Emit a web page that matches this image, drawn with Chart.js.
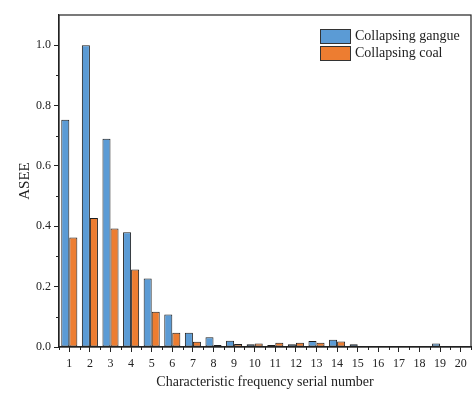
<!DOCTYPE html>
<html lang="en">
  <head>
    <meta charset="UTF-8" />
    <title>ASEE</title>
    <script src="https://cdn.jsdelivr.net/npm/chart.js"></script>
    <style>
      html, body { margin: 0; padding: 0; background: #fff; }
      #wrap { width: 474px; height: 395px; }
    </style>
  </head>
  <body>
    <div id="wrap"><canvas id="aseeChart" width="474" height="395"></canvas></div>

    <script>
      const categories = ["1","2","3","4","5","6","7","8","9","10","11","12","13","14","15","16","17","18","19","20"];
      const gangue = [0.753, 1.0, 0.69, 0.38, 0.227, 0.108, 0.047, 0.032, 0.021, 0.009, 0.007, 0.009, 0.02, 0.024, 0.009, 0.001, 0.001, 0.001, 0.012, 0.001];
      const coal = [0.363, 0.427, 0.393, 0.257, 0.117, 0.047, 0.017, 0.007, 0.01, 0.012, 0.014, 0.014, 0.014, 0.018, 0.003, 0.001, 0.001, 0.001, 0.001, 0.001];
      const yTicks = [0, 0.2, 0.4, 0.6, 0.8, 1.0];
      const yMinor = [0.1, 0.3, 0.5, 0.7, 0.9];

      const serif = "'Liberation Serif', 'DejaVu Serif', serif";

      // frame, minor ticks, legend inside plot
      const extras = {
        id: "extras",
        afterDraw(chart) {
          const { ctx, chartArea: a, scales } = chart;
          ctx.save();
          ctx.strokeStyle = "#222";
          ctx.lineWidth = 1.2;
          ctx.strokeRect(a.left, a.top, a.right - a.left, a.bottom - a.top);

          ctx.lineWidth = 1;
          ctx.beginPath();
          for (const v of yMinor) {
            const y = Math.round(scales.y.getPixelForValue(v)) + 0.5;
            ctx.moveTo(a.left - 3, y);
            ctx.lineTo(a.left, y);
          }
          for (let i = 0; i <= categories.length; i++) {
            const x = Math.round(scales.x.getPixelForValue(i - 0.5)) + 0.5;
            ctx.moveTo(x, a.bottom);
            ctx.lineTo(x, a.bottom + 3);
          }
          ctx.stroke();

          const items = [
            ["Collapsing gangue", "#5b9bd5"],
            ["Collapsing coal", "#ed7d31"],
          ];
          ctx.font = "14px " + serif;
          ctx.textBaseline = "middle";
          items.forEach(([label, color], i) => {
            const y = 29 + i * 17;
            ctx.fillStyle = color;
            ctx.fillRect(320, y, 31, 15);
            ctx.strokeStyle = "#333";
            ctx.strokeRect(320.5, y + 0.5, 30, 14);
            ctx.fillStyle = "#222";
            ctx.fillText(label, 355, y + 7.5);
          });
          ctx.restore();
        },
      };

      const barStyle = {
        borderColor: "#1e1e1e",
        borderWidth: 1,
        borderSkipped: false,
        categoryPercentage: 0.78,
        barPercentage: 1.0,
      };

      new Chart(document.getElementById("aseeChart"), {
        type: "bar",
        data: {
          labels: categories,
          datasets: [
            { label: "Collapsing gangue", data: gangue, backgroundColor: "#5b9bd5", ...barStyle },
            { label: "Collapsing coal", data: coal, backgroundColor: "#ed7d31", ...barStyle },
          ],
        },
        options: {
          responsive: false,
          animation: false,
          layout: { padding: { top: 15, right: 3, left: 0, bottom: 0 } },
          plugins: { legend: { display: false }, tooltip: { enabled: false } },
          scales: {
            x: {
              offset: true,
              grid: {
                offset: false,
                drawOnChartArea: false,
                tickLength: 5,
                color: "#222",
              },
              border: { color: "#222", width: 1.2 },
              ticks: {
                color: "#222",
                font: { family: serif, size: 12 },
                padding: 5,
                maxRotation: 0,
                autoSkip: false,
              },
              title: {
                display: true,
                text: "Characteristic frequency serial number",
                color: "#222",
                font: { family: serif, size: 14 },
                padding: { top: 6 },
              },
              afterFit(scale) { scale.height = 48; },
            },
            y: {
              min: 0,
              max: 1.1,
              afterBuildTicks(scale) {
                scale.ticks = yTicks.map((v) => ({ value: v }));
              },
              grid: {
                drawOnChartArea: false,
                tickLength: 5,
                color: "#222",
              },
              border: { color: "#222", width: 1.2 },
              ticks: {
                color: "#222",
                font: { family: serif, size: 12 },
                padding: 3,
                callback: (v) => Number(v).toFixed(1),
              },
              title: {
                display: true,
                text: "ASEE",
                color: "#222",
                font: { family: serif, size: 15 },
                padding: { top: 16, bottom: 0 },
              },
              afterFit(scale) { scale.width = 59; },
            },
          },
        },
        plugins: [extras],
      });
    </script>
  </body>
</html>
